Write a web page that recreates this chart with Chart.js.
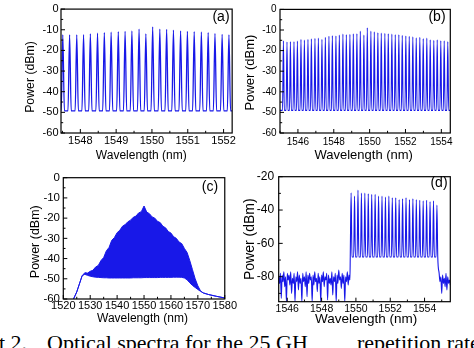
<!DOCTYPE html>
<html>
<head>
<meta charset="utf-8">
<script src="https://cdn.jsdelivr.net/npm/chart.js@4.4.1/dist/chart.umd.min.js"></script>
<style>
  html, body { margin: 0; padding: 0; background: #fff; }
  body { position: relative; width: 474px; height: 348px; overflow: hidden; }
  canvas { position: absolute; }
  .cap { position: absolute; top: 331px; font: 22px/23px 'Liberation Serif', 'Times New Roman', serif; white-space: pre; color: #000; }
</style>
</head>
<body>
<div class="cap" style="left:-1px">t 2.</div>
<div class="cap" style="left:47px">Optical spectra for the 25 GH</div>
<div class="cap" style="left:357px">repetition rate for</div>
<canvas id="chartA"></canvas>
<canvas id="chartB"></canvas>
<canvas id="chartC"></canvas>
<canvas id="chartD"></canvas>
<script>
// (a) comb lines
const aPeakWl = [1547.51, 1547.70, 1547.90, 1548.09, 1548.28, 1548.48, 1548.67, 1548.86, 1549.06, 1549.25,
  1549.44, 1549.64, 1549.83, 1550.02, 1550.22, 1550.41, 1550.60, 1550.80, 1550.99, 1551.18,
  1551.38, 1551.57, 1551.76, 1551.96, 1552.15];
const aPeakDbm = [-12.5, -12.5, -12.5, -12.4, -12.0, -11.7, -11.4, -11.2, -10.9, -10.8,
  -10.6, -9.7, -12.0, -8.6, -9.7, -9.8, -10.2, -10.5, -10.8, -10.9,
  -11.1, -11.4, -11.8, -12.2, -12.5];
const aFloor = -49.3;
const aXTicks = [1548, 1549, 1550, 1551, 1552];
const aYTicks = [0, -10, -20, -30, -40, -50, -60];

// (b) comb lines
const bPeakWl = [1545.19, 1545.39, 1545.58, 1545.78, 1545.97, 1546.17, 1546.36, 1546.56, 1546.75, 1546.95,
  1547.14, 1547.34, 1547.53, 1547.73, 1547.92, 1548.12, 1548.31, 1548.51, 1548.70, 1548.90,
  1549.09, 1549.29, 1549.48, 1549.68, 1549.87, 1550.07, 1550.26, 1550.46, 1550.65, 1550.85,
  1551.04, 1551.24, 1551.43, 1551.63, 1551.82, 1552.02, 1552.21, 1552.41, 1552.60, 1552.80,
  1552.99, 1553.19, 1553.38, 1553.58, 1553.77, 1553.97, 1554.16, 1554.36];
const bPeakDbm = [-15.3, -15.8, -15.6, -15.6, -15.4, -14.6, -14.9, -14.5, -14.3, -14.1,
  -13.9, -14.5, -13.6, -13.0, -12.7, -12.9, -12.5, -12.0, -12.2, -12.1,
  -11.9, -11.8, -10.5, -12.5, -8.9, -10.5, -10.9, -11.3, -11.5, -11.6,
  -11.8, -12.0, -12.2, -12.3, -12.6, -12.9, -13.1, -13.3, -13.8, -13.6,
  -14.2, -13.9, -14.8, -15.0, -14.8, -15.2, -15.3, -15.6];
const bFloor = -49.0;
const bXTicks = [1546, 1548, 1550, 1552, 1554];
const bYTicks = [0, -10, -20, -30, -40, -50, -60];

// (c) dense comb: upper envelope and floor
const cWl = [1523.8, 1525, 1526, 1527, 1528, 1529, 1530, 1531, 1532, 1533,
  1534, 1535, 1536, 1537, 1538, 1539, 1540, 1541, 1542, 1543,
  1544, 1545, 1546, 1547, 1548, 1549, 1550, 1551, 1552, 1553,
  1554, 1555, 1556, 1557, 1558, 1559, 1560, 1561, 1562, 1563,
  1564, 1565, 1566, 1567, 1568, 1569, 1570, 1571, 1572, 1574,
  1577, 1580];
const cTopDbm = [-60, -56.5, -52.5, -48.5, -47.0, -47.2, -46.3, -45.8, -44.2, -43.4,
  -41.0, -39.5, -36.2, -34.5, -31.0, -29.6, -27.2, -26.0, -24.0, -23.2,
  -21.8, -21.0, -19.6, -19.0, -17.4, -16.8, -14.0, -17.0, -17.8, -19.4,
  -20.0, -21.6, -22.2, -24.0, -24.8, -26.6, -27.4, -29.2, -30.0, -31.8,
  -32.6, -35.0, -37.0, -41.0, -45.5, -50.0, -53.5, -56.0, -57.0, -57.8,
  -58.7, -59.5];
const cFloorDbm = [-60, -56.5, -52.5, -48.5, -47.8, -48.3, -48.7, -49.0, -49.2, -49.3,
  -49.4, -49.5, -49.5, -49.6, -49.6, -49.6, -49.6, -49.6, -49.6, -49.6,
  -49.6, -49.6, -49.5, -49.5, -49.5, -49.5, -49.4, -49.4, -49.4, -49.4,
  -49.4, -49.4, -49.3, -49.3, -49.3, -49.3, -49.3, -49.2, -49.2, -49.2,
  -49.3, -49.6, -50.5, -52.0, -53.3, -54.3, -55.3, -56.2, -57.0, -57.8,
  -58.7, -59.5];
const cXTicks = [1520, 1530, 1540, 1550, 1560, 1570, 1580];
const cYTicks = [0, -10, -20, -30, -40, -50, -60];

// (d) filtered comb with noise floor either side
const dPeakWl = [1549.72, 1549.92, 1550.12, 1550.32, 1550.52, 1550.72, 1550.92, 1551.12, 1551.32, 1551.52,
  1551.72, 1551.92, 1552.12, 1552.32, 1552.52, 1552.72, 1552.92, 1553.12, 1553.32, 1553.52,
  1553.72, 1553.92, 1554.12, 1554.32, 1554.52, 1554.72];
const dPeakDbm = [-29.7, -31.6, -28.0, -29.8, -29.8, -30.2, -30.6, -30.6, -31.6, -31.6,
  -32.2, -31.6, -32.6, -32.6, -33.7, -33.2, -32.6, -33.7, -33.2, -33.7,
  -34.1, -34.5, -34.1, -34.9, -34.5, -37.0];
const dFloor = -68.2;
const dNoiseLeftWl = [1545.50, 1545.55, 1545.60, 1545.65, 1545.70, 1545.75, 1545.80, 1545.85, 1545.90, 1545.95,
  1546.00, 1546.05, 1546.10, 1546.15, 1546.20, 1546.25, 1546.30, 1546.35, 1546.40, 1546.45,
  1546.50, 1546.55, 1546.60, 1546.65, 1546.70, 1546.75, 1546.80, 1546.85, 1546.90, 1546.95,
  1547.00, 1547.05, 1547.10, 1547.15, 1547.20, 1547.25, 1547.30, 1547.35, 1547.40, 1547.45,
  1547.50, 1547.55, 1547.60, 1547.65, 1547.70, 1547.75, 1547.80, 1547.85, 1547.90, 1547.95,
  1548.00, 1548.05, 1548.10, 1548.15, 1548.20, 1548.25, 1548.30, 1548.35, 1548.40, 1548.45,
  1548.50, 1548.55, 1548.60, 1548.65, 1548.70, 1548.75, 1548.80, 1548.85, 1548.90, 1548.95,
  1549.00, 1549.05, 1549.10, 1549.15, 1549.20, 1549.25, 1549.30, 1549.35, 1549.40, 1549.45,
  1549.50, 1549.55, 1549.60, 1549.65];
const dNoiseLeftDbm = [-80, -84, -78, -93, -79, -83, -77, -86, -80, -95,
  -78, -82, -79, -85, -77, -90, -81, -84, -78, -95,
  -80, -83, -77, -88, -79, -84, -81, -95, -78, -83,
  -80, -86, -77, -92, -79, -84, -78, -82, -80, -95,
  -79, -85, -77, -83, -81, -89, -78, -84, -80, -95,
  -79, -83, -77, -86, -80, -82, -78, -94, -79, -84,
  -81, -85, -77, -91, -80, -83, -78, -95, -79, -84,
  -76, -82, -80, -87, -78, -84, -79, -95, -80, -83,
  -77, -85, -79, -82];
const dNoiseRightWl = [1554.85, 1554.90, 1554.95, 1555.00, 1555.05, 1555.10, 1555.15, 1555.20, 1555.25, 1555.30,
  1555.35, 1555.40, 1555.45, 1555.50];
const dNoiseRightDbm = [-78, -83, -80, -90, -79, -84, -81, -86, -78, -88,
  -80, -84, -82, -85];
const dXTicks = [1546, 1548, 1550, 1552, 1554];
const dYTicks = [-20, -40, -60, -80];

const BLUE = '#1818e8';
const SANS = "'Liberation Sans', Arial, sans-serif";
const NARROW = "'Liberation Sans Narrow', 'Liberation Sans', Arial, sans-serif";

// one comb line: rises from the floor to the peak value and back
function comb(wl, dbm, floor, a) {
  const pts = [];
  wl.forEach((w, i) => {
    pts.push({x: w - a, y: floor}, {x: w, y: dbm[i]}, {x: w + a, y: floor});
  });
  return pts;
}
function pairs(xs, ys) {
  return xs.map((x, i) => ({x: x, y: ys[i]}));
}

// box, inward ticks, panel tag and axis titles
const frame = {
  id: 'frame',
  afterDraw(chart, args, o) {
    const {ctx, chartArea: ar, scales: {x, y}} = chart;
    ctx.save();
    ctx.strokeStyle = '#000';
    ctx.lineWidth = 1.2;
    ctx.strokeRect(ar.left, ar.top, ar.right - ar.left, ar.bottom - ar.top);
    ctx.lineWidth = 1;
    const marks = (sc, minor, major, horiz) => {
      for (let k = Math.ceil(sc.min / minor - 1e-6); k * minor <= sc.max + 1e-6; k++) {
        const v = k * minor;
        const big = Math.abs(v / major - Math.round(v / major)) < 1e-6;
        const len = big ? 4 : 2.2;
        const p = sc.getPixelForValue(v);
        ctx.beginPath();
        if (horiz) { ctx.moveTo(p, ar.bottom); ctx.lineTo(p, ar.bottom - len); }
        else { ctx.moveTo(ar.left, p); ctx.lineTo(ar.left + len, p); }
        ctx.stroke();
      }
    };
    marks(x, o.xMinor, o.xMajor, true);
    marks(y, o.yMinor, o.yMajor, false);

    ctx.fillStyle = '#000';
    ctx.textAlign = 'center';
    ctx.textBaseline = 'middle';
    ctx.font = '14px ' + SANS;
    ctx.fillText(o.tag, o.tagX - o.L, o.tagY - o.T);
    ctx.textBaseline = 'alphabetic';
    ctx.font = o.xtSize + 'px ' + SANS;
    ctx.fillText('Wavelength (nm)', o.xtX - o.L, o.xtY - o.T);
    ctx.translate(o.ytX - o.L, o.ytY - o.T);
    ctx.rotate(-Math.PI / 2);
    ctx.font = o.ytSize + 'px ' + SANS;
    ctx.fillText('Power (dBm)', 0, 0);
    ctx.restore();
  }
};

function makePanel(id, box, area, xr, yr, xTicks, yTicks, datasets, look) {
  const cv = document.getElementById(id);
  cv.width = box.W; cv.height = box.H;
  cv.style.left = box.L + 'px'; cv.style.top = box.T + 'px';
  cv.style.width = box.W + 'px'; cv.style.height = box.H + 'px';
  new Chart(cv, {
    type: 'line',
    data: {datasets: datasets},
    options: {
      responsive: false,
      animation: false,
      events: [],
      layout: {
        autoPadding: false,
        padding: {left: 0, bottom: 0, top: area.top - box.T, right: box.L + box.W - area.right}
      },
      elements: {point: {radius: 0}},
      plugins: {
        legend: {display: false},
        tooltip: {enabled: false},
        frame: Object.assign({L: box.L, T: box.T}, look)
      },
      scales: {
        x: {
          type: 'linear', min: xr[0], max: xr[1],
          afterBuildTicks: s => { s.ticks = xTicks.map(v => ({value: v})); },
          afterFit: s => { s.height = box.T + box.H - area.bottom; },
          grid: {display: false, drawTicks: false},
          border: {display: false},
          ticks: {font: look.xFont, color: '#000', padding: look.xPad, autoSkip: false,
                  maxRotation: 0, minRotation: 0, callback: v => String(v)}
        },
        y: {
          type: 'linear', min: yr[0], max: yr[1],
          afterBuildTicks: s => { s.ticks = yTicks.map(v => ({value: v})); },
          afterFit: s => { s.width = area.left - box.L; },
          grid: {display: false, drawTicks: false},
          border: {display: false},
          ticks: {font: look.yFont, color: '#000', padding: look.yPad, autoSkip: false,
                  callback: v => String(v)}
        }
      }
    },
    plugins: [frame]
  });
}

// (a)
makePanel('chartA', {L: 0, T: 0, W: 237, H: 170}, {left: 61, top: 5, right: 233, bottom: 133},
  [1547.46, 1552.24], [-60, 0], aXTicks, aYTicks,
  [{data: [{x: 1547.46, y: aFloor}].concat(comb(aPeakWl, aPeakDbm, aFloor, 0.045), [{x: 1552.24, y: aFloor}]),
    borderColor: BLUE, borderWidth: 1.3, cubicInterpolationMode: 'monotone', fill: false}],
  {xFont: {family: NARROW, size: 11}, yFont: {family: NARROW, size: 11}, xPad: 1, yPad: 2.5,
   xMinor: 0.5, xMajor: 1, yMinor: 5, yMajor: 10,
   tag: '(a)', tagX: 221, tagY: 17, xtX: 141.3, xtY: 158.6, xtSize: 12, ytX: 33.5, ytY: 77, ytSize: 12.3});

// (b)
makePanel('chartB', {L: 237, T: 0, W: 237, H: 170}, {left: 280, top: 5, right: 450.3, bottom: 133},
  [1545, 1554.5], [-60, 0], bXTicks, bYTicks,
  [{data: [{x: 1545, y: bFloor}].concat(comb(bPeakWl, bPeakDbm, bFloor, 0.05), [{x: 1554.5, y: bFloor}]),
    borderColor: BLUE, borderWidth: 1.1, cubicInterpolationMode: 'monotone', fill: false}],
  {xFont: {family: NARROW, size: 10}, yFont: {family: NARROW, size: 10}, xPad: 3.5, yPad: 3.4,
   xMinor: 1, xMajor: 2, yMinor: 5, yMajor: 10,
   tag: '(b)', tagX: 437, tagY: 17, xtX: 363.7, xtY: 159.3, xtSize: 13, ytX: 254.2, ytY: 72.5, ytSize: 13});

// (c)
makePanel('chartC', {L: 0, T: 165, W: 237, H: 183}, {left: 63.3, top: 177.7, right: 228.3, bottom: 299},
  [1520, 1580], [-60, 0], cXTicks, cYTicks,
  [{data: pairs(cWl, cTopDbm), borderColor: BLUE, backgroundColor: BLUE, borderWidth: 1, fill: '+1'},
   {data: pairs(cWl, cFloorDbm), borderColor: BLUE, borderWidth: 1, fill: false}],
  {xFont: {family: SANS, size: 11}, yFont: {family: SANS, size: 11.5}, xPad: 0, yPad: 3.3,
   xMinor: 5, xMajor: 10, yMinor: 5, yMajor: 10,
   tag: '(c)', tagX: 210, tagY: 186.7, xtX: 142.5, xtY: 322, xtSize: 12, ytX: 39.2, ytY: 241.7, ytSize: 12.5});

// (d)
makePanel('chartD', {L: 237, T: 165, W: 237, H: 183}, {left: 278.7, top: 172.3, right: 450.3, bottom: 301.7},
  [1545.5, 1555.5], [-95, -20], dXTicks, dYTicks,
  [{data: pairs(dNoiseLeftWl, dNoiseLeftDbm).concat(comb(dPeakWl, dPeakDbm, dFloor, 0.05), pairs(dNoiseRightWl, dNoiseRightDbm)),
    borderColor: BLUE, borderWidth: 1.1, cubicInterpolationMode: 'monotone', fill: false}],
  {xFont: {family: SANS, size: 10.5}, yFont: {family: SANS, size: 12}, xPad: 0.8, yPad: 4.5,
   xMinor: 1, xMajor: 2, yMinor: 10, yMajor: 20,
   tag: '(d)', tagX: 439, tagY: 183.5, xtX: 366.2, xtY: 323, xtSize: 13.5, ytX: 254, ytY: 239.2, ytSize: 14});
</script>
</body>
</html>
